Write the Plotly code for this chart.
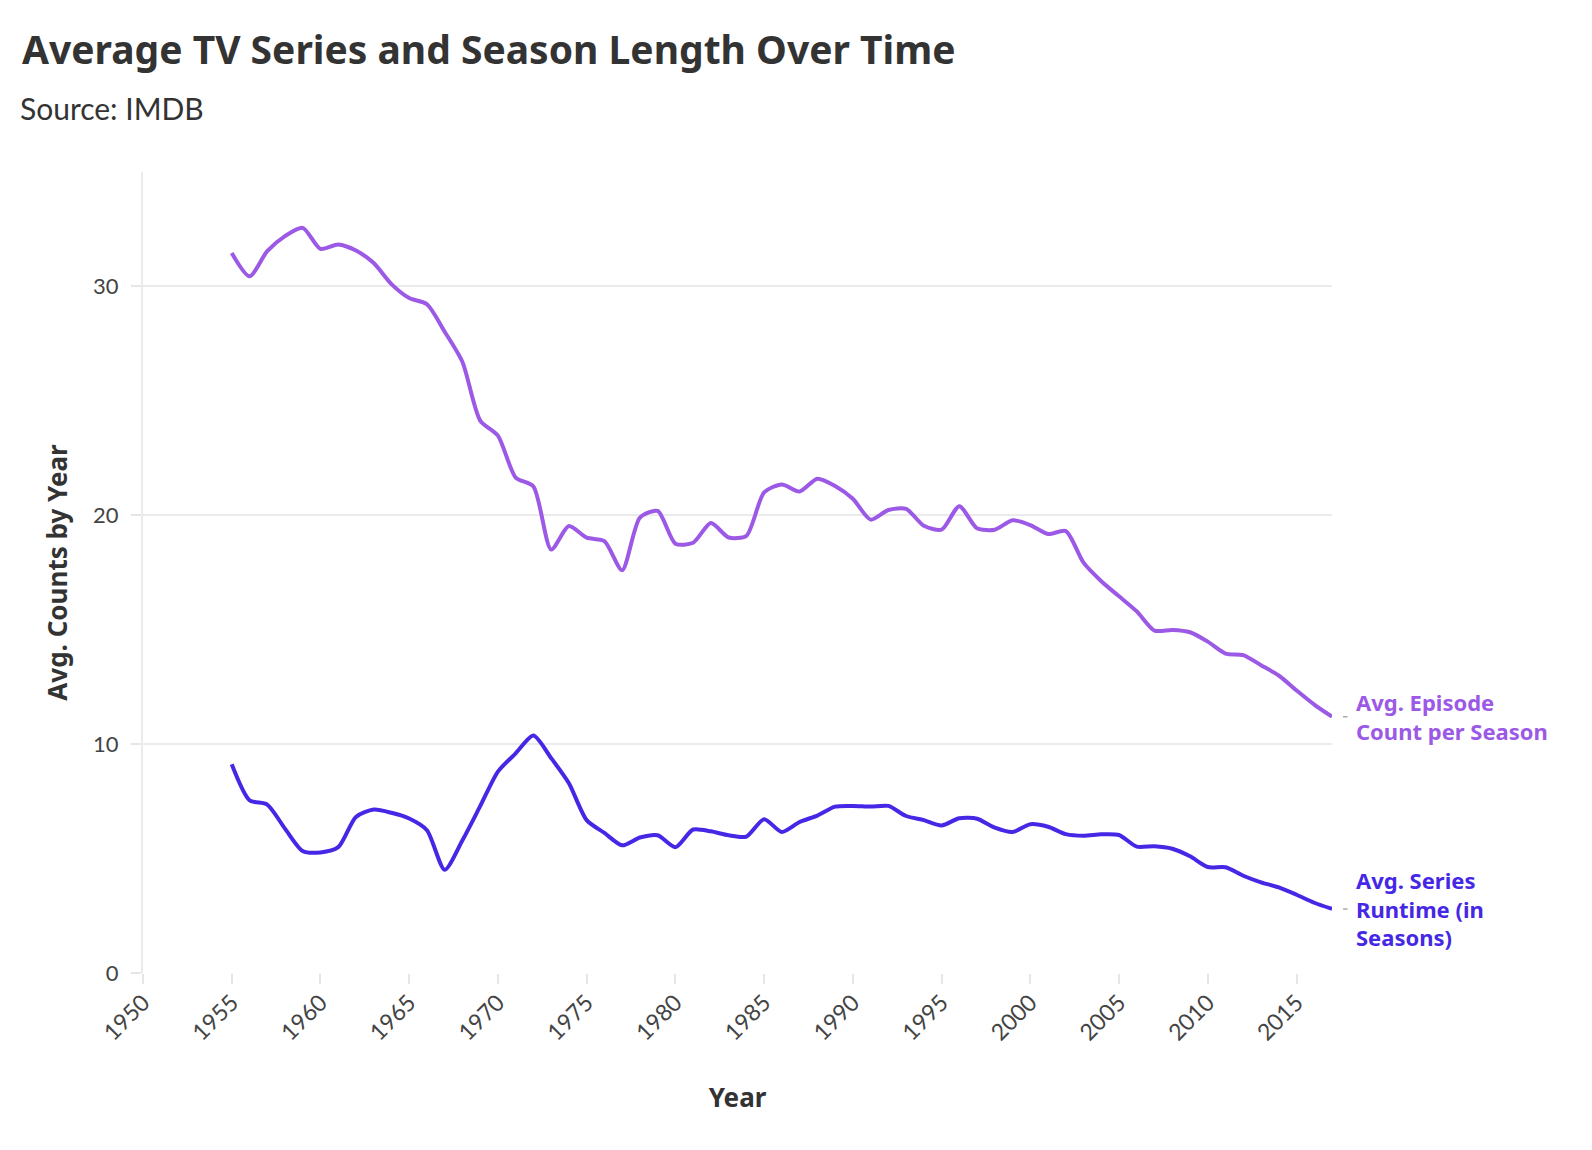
import plotly.graph_objects as go

# yearly averages
years = list(range(1955, 2018))

episodes_per_season = [
    31.46, 30.44, 31.54, 32.2, 32.56, 31.64, 31.83, 31.57, 31.02, 30.1,
    29.49, 29.22, 28.02, 26.7, 24.14, 23.48, 21.65, 21.26, 18.5, 19.53,
    19.02, 18.87, 17.6, 19.9, 20.19, 18.76, 18.8, 19.66, 19.03, 19.1,
    21.0, 21.35, 21.04, 21.6, 21.28, 20.72, 19.81, 20.23, 20.28, 19.54,
    19.37, 20.4, 19.43, 19.37, 19.78, 19.57, 19.18, 19.31, 17.93, 17.12,
    16.46, 15.8, 14.96, 14.99, 14.89, 14.48, 13.96, 13.89, 13.45, 13.0,
    12.35, 11.73, 11.2,
]

series_runtime = [
    9.12, 7.55, 7.36, 6.31, 5.33, 5.27, 5.5, 6.82, 7.14, 7.0,
    6.75, 6.24, 4.51, 5.8, 7.29, 8.8, 9.6, 10.38, 9.39, 8.29,
    6.68, 6.12, 5.58, 5.92, 6.02, 5.5, 6.27, 6.19, 6.02, 5.96,
    6.72, 6.16, 6.6, 6.88, 7.27, 7.3, 7.27, 7.3, 6.86, 6.68,
    6.45, 6.76, 6.74, 6.35, 6.16, 6.5, 6.39, 6.07, 6.0, 6.06,
    6.03, 5.52, 5.54, 5.43, 5.1, 4.63, 4.62, 4.25, 3.96, 3.74,
    3.42, 3.07, 2.8,
]

series_names = ["Avg. Episode<br>Count per Season", "Avg. Series<br>Runtime (in<br>Seasons)"]
series_colors = ["#9b59e6", "#4527e6"]

BOLD_FONT = "Noto Sans"
FONT = "Lato"
TEXT = "#333333"

fig = go.Figure()
for values, name, color in zip([episodes_per_season, series_runtime], series_names, series_colors):
    fig.add_trace(go.Scatter(
        x=years, y=values, mode="lines", name=name.replace("<br>", " "),
        line=dict(color=color, width=4, shape="spline", smoothing=0.7),
        hoverinfo="x+y",
    ))
    # small grey tick between the line end and its label
    fig.add_annotation(
        x=years[-1], y=values[-1], xref="x", yref="y", text="",
        showarrow=True, arrowhead=0, arrowwidth=1.5, arrowcolor="#aaaaaa",
        ax=17, ay=0, standoff=11,
    )
    fig.add_annotation(
        x=years[-1], y=values[-1], xref="x", yref="y", text=f"<b>{name}</b>",
        showarrow=False, xanchor="left", yanchor="middle", align="left", xshift=22,
        font=dict(family=BOLD_FONT, size=22, color=color, weight=800),
    )

fig.update_layout(
    width=1592, height=1150,
    margin=dict(l=135, r=268, t=164, b=185),
    paper_bgcolor="white", plot_bgcolor="white",
    showlegend=False,
    font=dict(family=FONT, color=TEXT),
    title=dict(
        text="<b>Average TV Series and Season Length Over Time</b>",
        x=14 / 1592, y=1 - 42 / 1150, xref="container", yref="container",
        xanchor="left", yanchor="middle",
        font=dict(family=BOLD_FONT, size=39, color=TEXT, weight=800),
    ),
)

fig.add_annotation(
    text="Source: IMDB", xref="paper", yref="paper", x=-120 / 1189, y=1 + 64 / 801,
    xanchor="left", yanchor="middle", showarrow=False, xshift=-5,
    font=dict(family=FONT, size=30, color=TEXT),
)

fig.update_xaxes(
    range=[1950, 2017], tick0=1950, dtick=5, tickangle=-45,
    showgrid=False, showline=False, zeroline=False,
    ticks="outside", ticklen=10, tickcolor="#e6e6e6", tickwidth=2,
    ticklabelstandoff=-4,
    tickfont=dict(family=FONT, size=23, color="#444444"),
    title=dict(text="<b>Year</b>", font=dict(family=BOLD_FONT, size=26, color=TEXT, weight=800), standoff=44),
)
fig.update_yaxes(
    range=[0, 35], tick0=0, dtick=10,
    showgrid=True, gridcolor="#ebebeb", gridwidth=2,
    showline=True, linecolor="#ebebeb", linewidth=2, zeroline=False,
    ticks="outside", ticklen=10, tickcolor="#e6e6e6", tickwidth=2,
    ticklabelstandoff=8,
    tickfont=dict(family=FONT, size=22, color="#444444"),
    title=dict(text="<b>Avg. Counts by Year</b>", font=dict(family=BOLD_FONT, size=26, color=TEXT, weight=800), standoff=18),
)

fig.write_html("out.html")
